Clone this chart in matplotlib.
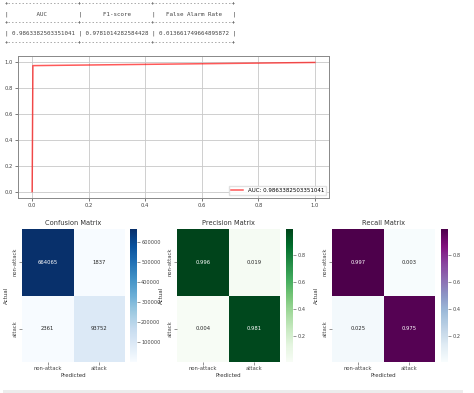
import matplotlib
matplotlib.use('Agg')
import matplotlib.pyplot as plt
from matplotlib.patches import Rectangle
import seaborn as sns
import numpy as np

# ---- data ----
table_headers = ['AUC', 'F1-score', 'False Alarm Rate']
table_values = ['0.9863382503351041', '0.9781014282584428', '0.013661749664895872']

fpr = [0.0, 0.002759, 1.0]
tpr = [0.0, 0.975440, 1.0]
auc_label = 'AUC: 0.9863382503351041'

class_names = ['non-attack', 'attack']
conf_mat = [[664065, 1837], [2361, 93752]]
prec_mat = [[0.996, 0.019], [0.004, 0.981]]
rec_mat = [[0.997, 0.003], [0.025, 0.975]]

conf_ticks = [100000, 200000, 300000, 400000, 500000, 600000]
ratio_ticks = [0.2, 0.4, 0.6, 0.8]
roc_xticks = [0.0, 0.2, 0.4, 0.6, 0.8, 1.0]
roc_yticks = [0.0, 0.2, 0.4, 0.6, 0.8, 1.0]

W, H = 474, 393
fig = plt.figure(figsize=(W/100, H/100), dpi=100)
fig.patch.set_facecolor('white')

def fx(px):
    return px / W

def fy(py):
    return 1 - py / H

# ---- prettytable style text at top ----
widths = [max(len(h), len(v)) + 2 for h, v in zip(table_headers, table_values)]
border = '+' + '+'.join('-' * w for w in widths) + '+'
head = '|' + '|'.join(h.center(w) for h, w in zip(table_headers, widths)) + '|'
vals = '|' + '|'.join((' ' + v + ' ').ljust(w) for v, w in zip(table_values, widths)) + '|'
rows = [border, head, border, vals, border]
row_y = [3, 14, 22, 33, 42]
for s, py in zip(rows, row_y):
    fig.text(fx(5), fy(py), s, family='DejaVu Sans Mono', fontsize=4.2,
             color='#444444', va='center', ha='left')

# ---- ROC curve ----
ax = fig.add_axes([fx(18), fy(198), fx(329) - fx(18), fy(56) - fy(198)])
ax.plot(fpr, tpr, color='red', alpha=0.65, linewidth=1.1, label=auc_label)
ax.set_xticks(roc_xticks)
ax.set_yticks(roc_yticks)
ax.grid(color='#c8c8c8', linewidth=0.6)
ax.tick_params(labelsize=3.8, length=2, width=0.5, colors='#444444', pad=1.5)
for sp in ax.spines.values():
    sp.set_color('#888888')
    sp.set_linewidth(0.7)
ax.legend(loc='lower right', fontsize=4, handlelength=2.2, borderpad=0.4,
          fancybox=False, framealpha=0.9, edgecolor='#dddddd')

# ---- heatmaps ----
panels = [
    (conf_mat, 'Blues', 'd', 'Confusion Matrix', 22, 130, conf_ticks),
    (prec_mat, 'Greens', '.3f', 'Precision Matrix', 177, 286, ratio_ticks),
    (rec_mat, 'BuPu', '.3f', 'Recall Matrix', 332, 441, ratio_ticks),
]
for mat, cmap, fmt, title, left, cleft, cticks in panels:
    hax = fig.add_axes([fx(left), fy(362), fx(103), fy(229) - fy(362)])
    cax = fig.add_axes([fx(cleft), fy(362), fx(7), fy(229) - fy(362)])
    sns.heatmap(np.array(mat), annot=True, fmt=fmt, cmap=cmap, ax=hax, cbar_ax=cax,
                xticklabels=class_names, yticklabels=class_names,
                annot_kws={'fontsize': 3.8}, cbar_kws={'ticks': cticks})
    hax.set_title(title, fontsize=4.8, pad=3, color='#333333')
    hax.set_xlabel('Predicted', fontsize=4, labelpad=1.5, color='#333333')
    hax.set_ylabel('Actual', fontsize=4, labelpad=2.5, color='#333333')
    hax.tick_params(labelsize=3.8, length=2, width=0.4, pad=1, colors='#444444')
    plt.setp(hax.get_yticklabels(), rotation=90, va='center')
    plt.setp(hax.get_xticklabels(), rotation=0)
    cax.tick_params(labelsize=3.6, length=2, width=0.4, pad=1, colors='#444444')
    cax.set_frame_on(False)

# light separator band at the bottom
fig.add_artist(Rectangle((fx(3), 0), fx(460), fy(390), transform=fig.transFigure,
                         facecolor='#ececec', edgecolor='none'))

fig.savefig('out.png', dpi=100)
